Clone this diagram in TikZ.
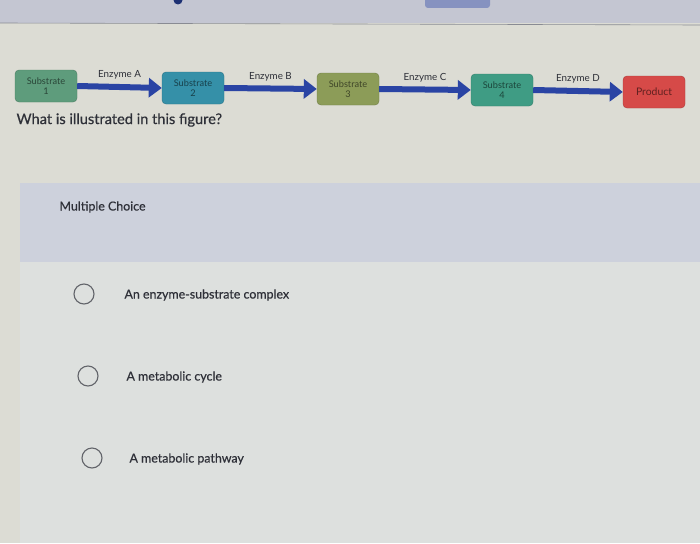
\documentclass[tikz,border=0pt]{standalone}
\usepackage{fontspec}
\setmainfont{Lato}
\newfontfamily\medfont[FakeBold=0.5]{Lato}
\usetikzlibrary{arrows.meta}
\definecolor{bg}{HTML}{DCDCD4}
\definecolor{topbar}{HTML}{C4C6D2}
\definecolor{panelhead}{HTML}{CDD1DC}
\definecolor{panelbody}{HTML}{DDE0DE}
\definecolor{sone}{HTML}{5E9C7C}
\definecolor{stwo}{HTML}{3590A8}
\definecolor{sthree}{HTML}{8C9C58}
\definecolor{sfour}{HTML}{3F9C84}
\definecolor{prod}{HTML}{D64A48}
\definecolor{arrowblue}{HTML}{2A44A4}
\definecolor{txt}{HTML}{2E3038}
\tikzset{
  x=1pt,y=-1pt,
  sbox/.style={rounded corners=4pt, minimum width=62pt, minimum height=32pt, inner sep=1pt, align=center, font=\fontsize{9.2}{9.5}\selectfont, draw=#1!80!black, fill=#1, text=#1!45!black},
  flow/.style={draw=arrowblue, line width=6pt, -{Triangle[length=13pt,width=19pt]}},
  enz/.style={font=\fontsize{9.8}{10}\selectfont, text=txt},
  radio/.style={circle, draw=txt!75, line width=1.1pt, minimum size=20pt, inner sep=0pt},
  choice/.style={anchor=west, font=\medfont\fontsize{12.4}{13}\selectfont, text=txt},
}
\begin{document}
\begin{tikzpicture}
\useasboundingbox (0,0) rectangle (700,543);
\fill[bg] (0,0) rectangle (700,543);
\fill[topbar] (0,0) rectangle (700,23);
\draw[topbar!70!black, line width=0.6pt] (0,23) -- (700,25);
\fill[arrowblue!70!black] (178,0) circle (4.5);
\fill[arrowblue!40!topbar, rounded corners=3pt] (425,-4) rectangle (490,8);
% diagram
\node[sbox=sone] (s1) at (46,86) {Substrate\\1};
\node[sbox=stwo] (s2) at (193,88) {Substrate\\2};
\node[sbox=sthree] (s3) at (348,89) {Substrate\\3};
\node[sbox=sfour] (s4) at (502,90) {Substrate\\4};
\node[sbox=prod, font=\fontsize{10.4}{11}\selectfont] (p) at (654,92) {Product};
\draw[flow] (s1.east) -- (s2.west) node[enz, midway, above=1pt] {Enzyme A};
\draw[flow] (s2.east) -- (s3.west) node[enz, midway, above=1pt] {Enzyme B};
\draw[flow] (s3.east) -- (s4.west) node[enz, midway, above=1pt] {Enzyme C};
\draw[flow] (s4.east) -- (p.west) node[enz, midway, above=1pt] {Enzyme D};
\node[anchor=west, font=\medfont\fontsize{14.6}{16}\selectfont, text=txt] (q) at (13,120) {What is illustrated in this figure?};
% panel
\fill[panelbody] (20,183) rectangle (700,543);
\fill[panelhead] (20,183) rectangle (700,262);
\node[anchor=west, font=\medfont\fontsize{12.4}{13}\selectfont, text=txt] (mc) at (56,207) {Multiple Choice};
\node[radio] (r1) at (84,294) {};
\node[radio] (r2) at (88,376) {};
\node[radio] (r3) at (92,458) {};
\node[choice] (c1) at (121,295) {An enzyme-substrate complex};
\node[choice] (c2) at (123,377) {A metabolic cycle};
\node[choice] (c3) at (126,459) {A metabolic pathway};
\end{tikzpicture}
\end{document}
